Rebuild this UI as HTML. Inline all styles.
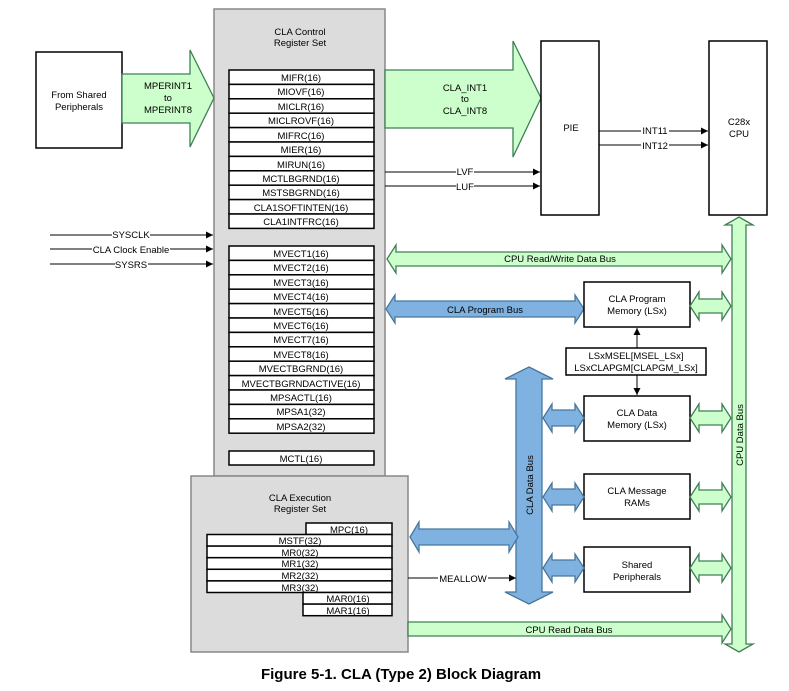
<!DOCTYPE html>
<html><head><meta charset="utf-8"><style>
html,body{margin:0;padding:0;background:#fff;width:789px;height:691px;overflow:hidden}
svg{display:block}
text{font-family:"Liberation Sans",sans-serif;font-size:9.5px;fill:#000}
.g{fill:#ccffcc;stroke:#3f7f55;stroke-width:1.3}
.b{fill:#7fb2e0;stroke:#47779d;stroke-width:1.3}
.r{fill:#fff;stroke:#000;stroke-width:1.5}
.bx{fill:#fff;stroke:#000;stroke-width:1.5}
.ln{stroke:#000;stroke-width:1}
</style></head><body>
<svg width="789" height="691" viewBox="0 0 789 691">
<defs><marker id="ah" markerWidth="8" markerHeight="8" refX="7" refY="4" orient="auto" markerUnits="userSpaceOnUse"><path d="M0,0.5 L7,4 L0,7.5z" fill="#000"/></marker></defs>

<!-- control register set -->
<rect x="214" y="9" width="171" height="467" fill="#dcdcdc" stroke="#888" stroke-width="1.5"/>
<text x="300" y="35" text-anchor="middle">CLA Control</text>
<text x="300" y="46" text-anchor="middle">Register Set</text>

<g text-anchor="middle">
<rect class="r" x="229" y="70" width="145" height="14.4"/><text x="301" y="81">MIFR(16)</text>
<rect class="r" x="229" y="84.4" width="145" height="14.4"/><text x="301" y="95">MIOVF(16)</text>
<rect class="r" x="229" y="98.8" width="145" height="14.4"/><text x="301" y="110">MICLR(16)</text>
<rect class="r" x="229" y="113.2" width="145" height="14.4"/><text x="301" y="124">MICLROVF(16)</text>
<rect class="r" x="229" y="127.6" width="145" height="14.4"/><text x="301" y="139">MIFRC(16)</text>
<rect class="r" x="229" y="142" width="145" height="14.4"/><text x="301" y="153">MIER(16)</text>
<rect class="r" x="229" y="156.4" width="145" height="14.4"/><text x="301" y="168">MIRUN(16)</text>
<rect class="r" x="229" y="170.8" width="145" height="14.4"/><text x="301" y="182">MCTLBGRND(16)</text>
<rect class="r" x="229" y="185.2" width="145" height="14.4"/><text x="301" y="196">MSTSBGRND(16)</text>
<rect class="r" x="229" y="199.6" width="145" height="14.4"/><text x="301" y="211">CLA1SOFTINTEN(16)</text>
<rect class="r" x="229" y="214" width="145" height="14.4"/><text x="301" y="225">CLA1INTFRC(16)</text>

<rect class="r" x="229" y="246" width="145" height="14.4"/><text x="301" y="257">MVECT1(16)</text>
<rect class="r" x="229" y="260.4" width="145" height="14.4"/><text x="301" y="271">MVECT2(16)</text>
<rect class="r" x="229" y="274.8" width="145" height="14.4"/><text x="301" y="286">MVECT3(16)</text>
<rect class="r" x="229" y="289.2" width="145" height="14.4"/><text x="301" y="300">MVECT4(16)</text>
<rect class="r" x="229" y="303.6" width="145" height="14.4"/><text x="301" y="315">MVECT5(16)</text>
<rect class="r" x="229" y="318" width="145" height="14.4"/><text x="301" y="329">MVECT6(16)</text>
<rect class="r" x="229" y="332.4" width="145" height="14.4"/><text x="301" y="343">MVECT7(16)</text>
<rect class="r" x="229" y="346.8" width="145" height="14.4"/><text x="301" y="358">MVECT8(16)</text>
<rect class="r" x="229" y="361.2" width="145" height="14.4"/><text x="301" y="372">MVECTBGRND(16)</text>
<rect class="r" x="229" y="375.6" width="145" height="14.4"/><text x="301" y="387">MVECTBGRNDACTIVE(16)</text>
<rect class="r" x="229" y="390" width="145" height="14.4"/><text x="301" y="401">MPSACTL(16)</text>
<rect class="r" x="229" y="404.4" width="145" height="14.4"/><text x="301" y="415">MPSA1(32)</text>
<rect class="r" x="229" y="418.8" width="145" height="14.4"/><text x="301" y="430">MPSA2(32)</text>
<rect class="r" x="229" y="451" width="145" height="14"/><text x="301" y="462">MCTL(16)</text>
</g>

<!-- execution register set -->
<rect x="191" y="476" width="217" height="176" fill="#dcdcdc" stroke="#888" stroke-width="1.5"/>
<g text-anchor="middle">
<text x="300" y="501">CLA Execution</text>
<text x="300" y="512">Register Set</text>
<rect class="r" x="306" y="523" width="86" height="11.5"/><text x="349" y="533">MPC(16)</text>
<rect class="r" x="207" y="534.5" width="185" height="11.6"/><text x="300" y="544">MSTF(32)</text>
<rect class="r" x="207" y="546.1" width="185" height="11.6"/><text x="300" y="556">MR0(32)</text>
<rect class="r" x="207" y="557.7" width="185" height="11.6"/><text x="300" y="567">MR1(32)</text>
<rect class="r" x="207" y="569.3" width="185" height="11.6"/><text x="300" y="579">MR2(32)</text>
<rect class="r" x="207" y="580.9" width="185" height="11.6"/><text x="300" y="591">MR3(32)</text>
<rect class="r" x="303" y="592.5" width="89" height="11.6"/><text x="348" y="602">MAR0(16)</text>
<rect class="r" x="303" y="604.1" width="89" height="11.6"/><text x="348" y="614">MAR1(16)</text>
</g>

<!-- From shared peripherals -->
<rect class="bx" x="36" y="52" width="86" height="96"/>
<text x="79" y="98" text-anchor="middle" font-size="9">From Shared</text>
<text x="79" y="110" text-anchor="middle" font-size="9">Peripherals</text>
<polygon class="g" points="122,74 190,74 190,50 214,98 190,147 190,123 122,123"/>
<text x="168" y="89" text-anchor="middle">MPERINT1</text>
<text x="168" y="101" text-anchor="middle">to</text>
<text x="168" y="113" text-anchor="middle">MPERINT8</text>

<!-- CLA_INT arrow -->
<polygon class="g" points="385,70 513,70 513,41 541,98 513,157 513,128 385,128"/>
<text x="465" y="91" text-anchor="middle">CLA_INT1</text>
<text x="465" y="102" text-anchor="middle">to</text>
<text x="465" y="114" text-anchor="middle">CLA_INT8</text>

<!-- PIE / CPU -->
<rect class="bx" x="541" y="41" width="58" height="174"/>
<text x="571" y="131" text-anchor="middle">PIE</text>
<rect class="bx" x="709" y="41" width="58" height="174"/>
<text x="739" y="125" text-anchor="middle">C28x</text>
<text x="739" y="137" text-anchor="middle">CPU</text>

<line class="ln" x1="599" y1="131" x2="708" y2="131" marker-end="url(#ah)"/>
<line class="ln" x1="599" y1="145" x2="708" y2="145" marker-end="url(#ah)"/>
<rect x="641" y="125" width="28" height="12" fill="#fff"/><text x="655" y="134" text-anchor="middle">INT11</text>
<rect x="641" y="139" width="28" height="12" fill="#fff"/><text x="655" y="149" text-anchor="middle">INT12</text>

<line class="ln" x1="385" y1="172" x2="540" y2="172" marker-end="url(#ah)"/>
<line class="ln" x1="385" y1="186" x2="540" y2="186" marker-end="url(#ah)"/>
<rect x="456" y="166" width="18" height="12" fill="#fff"/><text x="465" y="175" text-anchor="middle">LVF</text>
<rect x="456" y="180" width="18" height="12" fill="#fff"/><text x="465" y="190" text-anchor="middle">LUF</text>

<!-- left signals -->
<line class="ln" x1="50" y1="235" x2="213" y2="235" marker-end="url(#ah)"/>
<line class="ln" x1="50" y1="249" x2="213" y2="249" marker-end="url(#ah)"/>
<line class="ln" x1="50" y1="264" x2="213" y2="264" marker-end="url(#ah)"/>
<rect x="112" y="229" width="38" height="12" fill="#fff"/><text x="131" y="238" text-anchor="middle">SYSCLK</text>
<rect x="92" y="243" width="78" height="12" fill="#fff"/><text x="131" y="253" text-anchor="middle">CLA Clock Enable</text>
<rect x="115" y="258" width="33" height="12" fill="#fff"/><text x="131" y="268" text-anchor="middle">SYSRS</text>

<!-- CPU data bus vertical -->
<polygon class="g" points="739,217 753,225 746,225 746,644 753,644 739,652 725,644 732,644 732,225 725,225"/>
<text transform="translate(743,435) rotate(-90)" text-anchor="middle" font-size="9">CPU Data Bus</text>

<!-- CPU RW bus -->
<polygon class="g" points="387,259 396,245 396,252 722,252 722,245 731,259 722,273 722,266 396,266 396,273"/>
<text x="560" y="262" text-anchor="middle">CPU Read/Write Data Bus</text>

<!-- Program bus -->
<polygon class="b" points="386,309 395,295 395,301 575,301 575,295 584,309 575,323 575,317 395,317 395,323"/>
<text x="485" y="313" text-anchor="middle">CLA Program Bus</text>

<!-- memories -->
<rect class="bx" x="584" y="282" width="106" height="45"/>
<text x="637" y="302" text-anchor="middle">CLA Program</text>
<text x="637" y="314" text-anchor="middle">Memory (LSx)</text>
<rect class="bx" x="566" y="348" width="140" height="27"/>
<text x="636" y="359" text-anchor="middle">LSxMSEL[MSEL_LSx]</text>
<text x="636" y="371" text-anchor="middle">LSxCLAPGM[CLAPGM_LSx]</text>
<line class="ln" x1="637" y1="348" x2="637" y2="328" marker-end="url(#ah)"/>
<line class="ln" x1="637" y1="375" x2="637" y2="395" marker-end="url(#ah)"/>
<rect class="bx" x="584" y="396" width="106" height="45"/>
<text x="637" y="416" text-anchor="middle">CLA Data</text>
<text x="637" y="428" text-anchor="middle">Memory (LSx)</text>
<rect class="bx" x="584" y="474" width="106" height="45"/>
<text x="637" y="494" text-anchor="middle">CLA Message</text>
<text x="637" y="506" text-anchor="middle">RAMs</text>
<rect class="bx" x="584" y="547" width="106" height="45"/>
<text x="637" y="568" text-anchor="middle">Shared</text>
<text x="637" y="580" text-anchor="middle">Peripherals</text>

<!-- green small arrows -->
<polygon class="g" points="690,306 699,292 699,299 722,299 722,292 731,306 722,320 722,313 699,313 699,320"/>
<polygon class="g" points="690,418 699,404 699,411 722,411 722,404 731,418 722,432 722,425 699,425 699,432"/>
<polygon class="g" points="690,497 699,483 699,490 722,490 722,483 731,497 722,511 722,504 699,504 699,511"/>
<polygon class="g" points="690,568 699,554 699,561 722,561 722,554 731,568 722,582 722,575 699,575 699,582"/>

<!-- blue small arrows -->
<polygon class="b" points="543,418 552,404 552,410 575,410 575,404 584,418 575,432 575,426 552,426 552,432"/>
<polygon class="b" points="543,497 552,483 552,489 575,489 575,483 584,497 575,511 575,505 552,505 552,511"/>
<polygon class="b" points="543,568 552,554 552,560 575,560 575,554 584,568 575,582 575,576 552,576 552,582"/>

<!-- CLA data bus vertical -->
<polygon class="b" points="529,367 553,379 542,379 542,592 553,592 529,604 505,592 516,592 516,379 505,379"/>
<text transform="translate(533,485) rotate(-90)" text-anchor="middle">CLA Data Bus</text>

<!-- exec arrow -->
<polygon class="b" points="410,537 419,522 419,529 509,529 509,522 518,537 509,552 509,545 419,545 419,552"/>

<!-- MEALLOW -->
<line class="ln" x1="408" y1="578" x2="516" y2="578" marker-end="url(#ah)"/>
<rect x="438" y="572" width="50" height="12" fill="#fff"/><text x="463" y="582" text-anchor="middle">MEALLOW</text>

<!-- CPU read data bus -->
<polygon class="g" points="408,622 722,622 722,615 731,629 722,643 722,636 408,636"/>
<text x="569" y="633" text-anchor="middle">CPU Read Data Bus</text>

<text x="401" y="679" text-anchor="middle" style="font-size:15px;font-weight:bold">Figure 5-1. CLA (Type 2) Block Diagram</text>
</svg>
</body></html>
